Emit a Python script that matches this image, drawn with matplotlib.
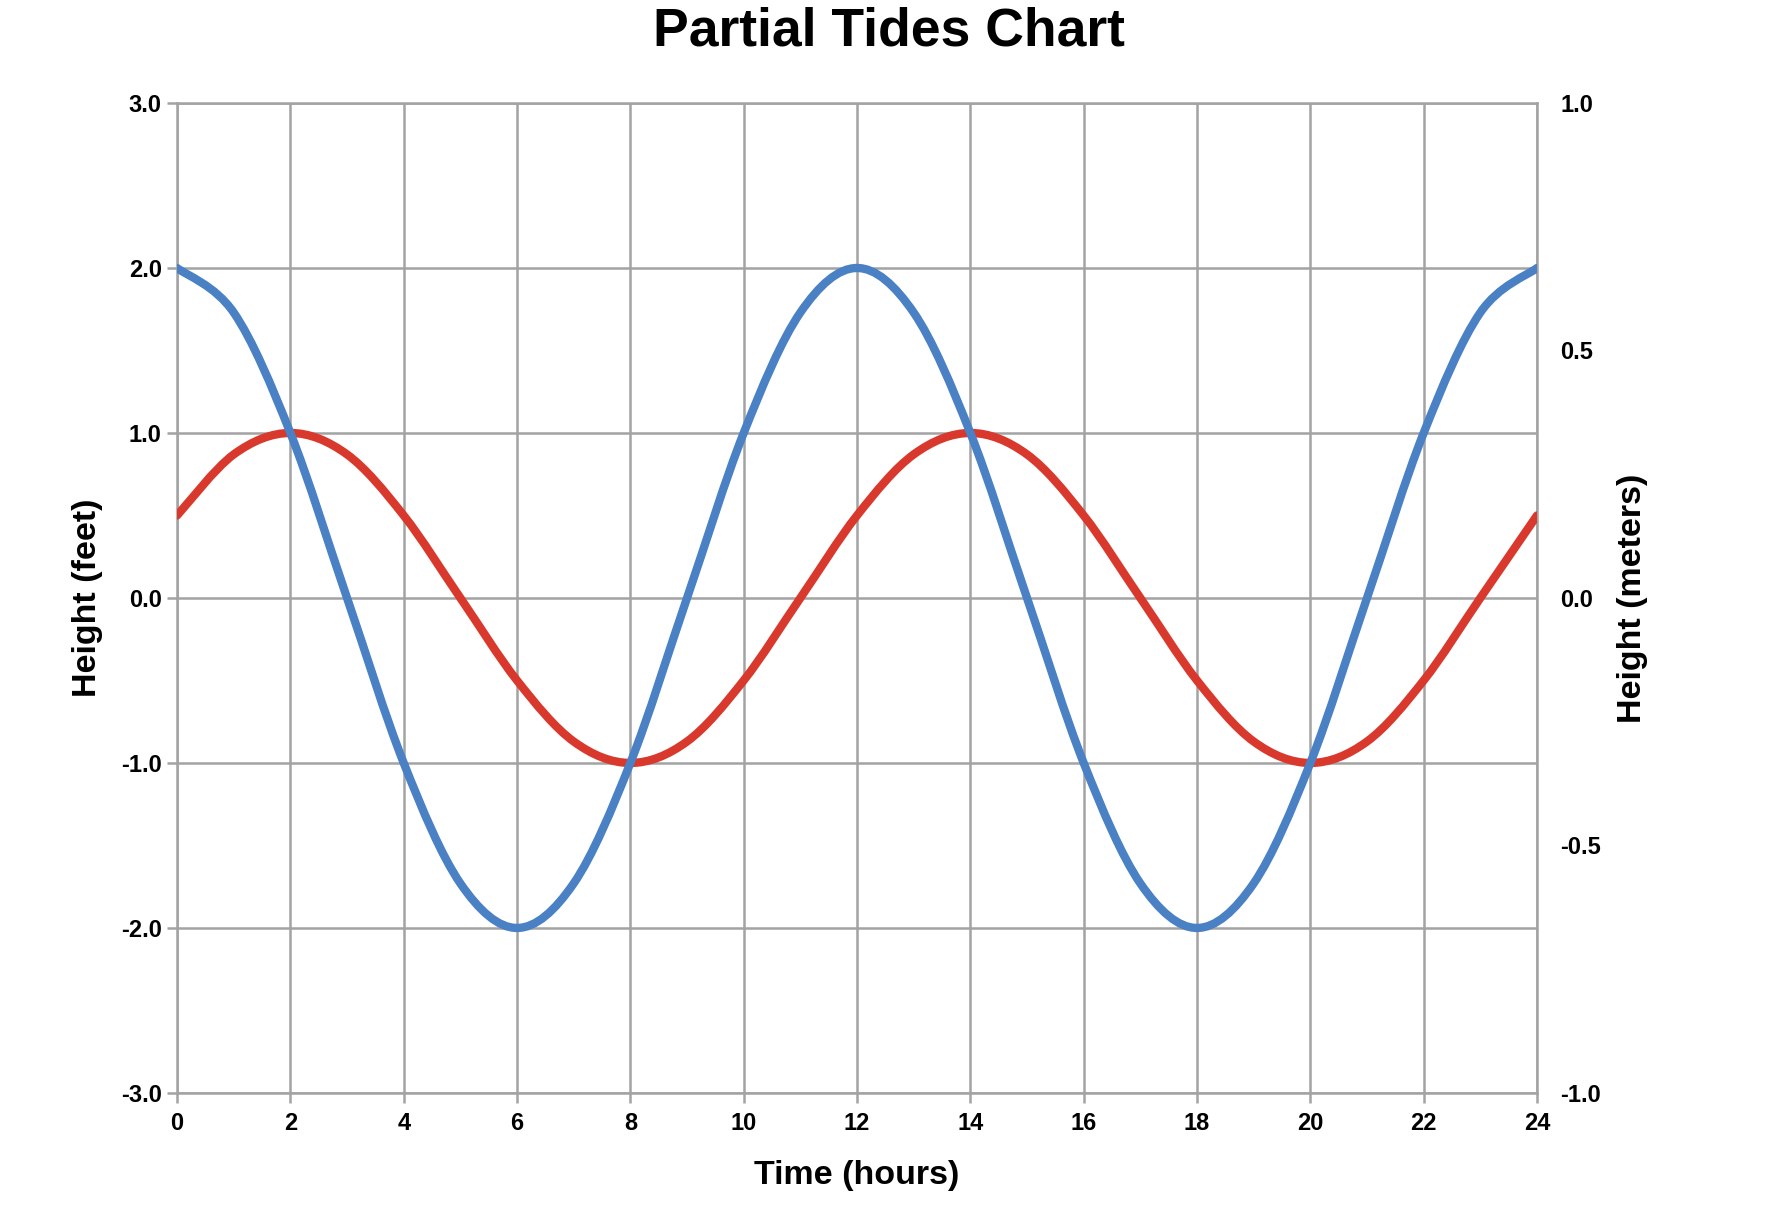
import matplotlib as mpl
mpl.use('Agg')
import matplotlib.pyplot as plt
from matplotlib.path import Path
from matplotlib.patches import PathPatch
from matplotlib.ticker import FormatStrFormatter

plt.rcParams['font.family'] = ['Liberation Sans', 'DejaVu Sans']
plt.rcParams['font.weight'] = 'bold'
plt.rcParams['axes.labelweight'] = 'bold'

# hourly readings (feet)
hours = list(range(25))
blue_ft = [2.0, 1.73, 1.0, 0.0, -1.0, -1.73, -2.0, -1.73, -1.0, 0.0, 1.0, 1.73, 2.0,
           1.73, 1.0, 0.0, -1.0, -1.73, -2.0, -1.73, -1.0, 0.0, 1.0, 1.73, 2.0]
red_ft = [0.5, 0.87, 1.0, 0.87, 0.5, 0.0, -0.5, -0.87, -1.0, -0.87, -0.5, 0.0, 0.5,
          0.87, 1.0, 0.87, 0.5, 0.0, -0.5, -0.87, -1.0, -0.87, -0.5, 0.0, 0.5]

xticks = list(range(0, 25, 2))
yticks_ft = [-3, -2, -1, 0, 1, 2, 3]
yticks_m = [-1.0, -0.5, 0.0, 0.5, 1.0]

GRID = '#a3a3a3'


def smooth_path(xs, ys):
    # excel-style smoothed line: cubic bezier segments through the data points
    verts = [(xs[0], ys[0])]
    codes = [Path.MOVETO]
    n = len(xs)
    for i in range(n - 1):
        x0, y0 = xs[max(i - 1, 0)], ys[max(i - 1, 0)]
        x1, y1 = xs[i], ys[i]
        x2, y2 = xs[i + 1], ys[i + 1]
        x3, y3 = xs[min(i + 2, n - 1)], ys[min(i + 2, n - 1)]
        c1 = (x1 + (x2 - x0) / 6, y1 + (y2 - y0) / 6)
        c2 = (x2 - (x3 - x1) / 6, y2 - (y3 - y1) / 6)
        verts += [c1, c2, (x2, y2)]
        codes += [Path.CURVE4] * 3
    return Path(verts, codes)


fig = plt.figure(figsize=(17.92, 12.16), dpi=100)
ax = fig.add_axes([0.0988, 0.1012, 0.7589, 0.8141])

for ys, col in [(red_ft, '#d9382c'), (blue_ft, '#4a80c4')]:
    ax.add_patch(PathPatch(smooth_path(hours, ys), facecolor='none',
                           edgecolor=col, lw=6, capstyle='round', zorder=3))

ax.set_xlim(0, 24)
ax.set_ylim(-3, 3)
ax.set_xticks(xticks)
ax.set_yticks(yticks_ft)
ax.yaxis.set_major_formatter(FormatStrFormatter('%.1f'))
ax.grid(True, color=GRID, lw=1.8)
for s in ax.spines.values():
    s.set_color(GRID)
    s.set_linewidth(1.8)
ax.tick_params(colors=GRID, width=1.8, length=7, labelcolor='black', labelsize=17)
ax.tick_params(axis='x', pad=7)
ax.tick_params(axis='y', pad=4)

ax2 = ax.twinx()
ax2.set_ylim(-1, 1)
ax2.set_yticks(yticks_m)
ax2.yaxis.set_major_formatter(FormatStrFormatter('%.1f'))
ax2.tick_params(length=0, pad=17, labelsize=17)
for s in ax2.spines.values():
    s.set_visible(False)

ax.set_xlabel('Time (hours)', fontsize=24.5, labelpad=18)
ax.set_ylabel('Height (feet)', fontsize=24.5, labelpad=13)
ax2.set_ylabel('Height (meters)', fontsize=24.5, labelpad=11)
fig.suptitle('Partial Tides Chart', fontsize=38.5, fontweight='bold', x=0.496, y=0.995)

fig.savefig('out.png', dpi=100)
